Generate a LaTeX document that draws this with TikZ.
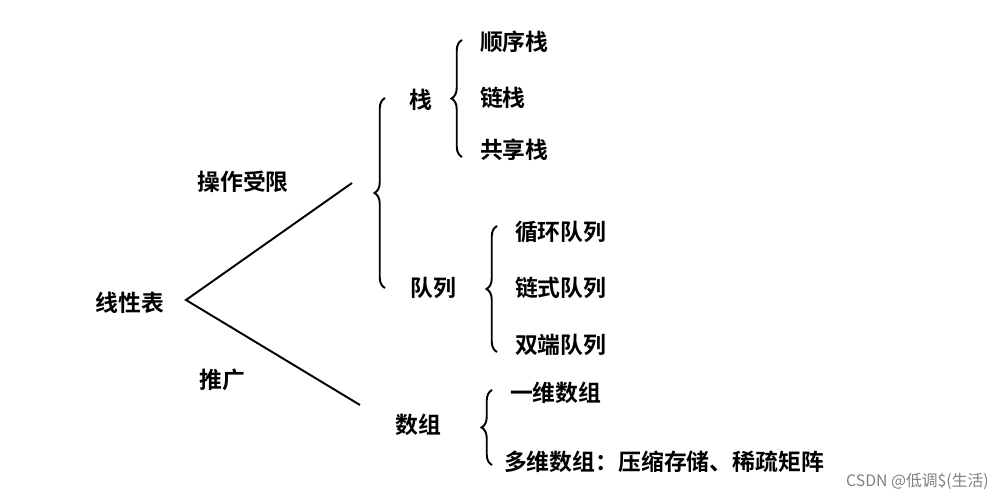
\documentclass[tikz,border=0pt]{standalone}
\usepackage{fontspec}
\setmainfont{Noto Sans CJK SC}[BoldFont={Noto Sans CJK SC Bold}]
\usetikzlibrary{decorations.pathreplacing}
\begin{document}
\begin{tikzpicture}[x=0.02cm,y=-0.02cm,
  lbl/.style={font=\fontsize{13}{15}\selectfont\bfseries, inner sep=1pt},
  br/.style={line width=1.1pt, decorate, decoration={brace, amplitude=6pt}},
  ln/.style={line width=1.1pt}]
\useasboundingbox (0,0) rectangle (999,500);
\node[lbl] (lin) at (130,303) {线性表};
\node[lbl] (op) at (243,182) {操作受限};
\node[lbl] (tg) at (222,380) {推广};
\coordinate (o) at (186,300);
\coordinate (e1) at (352,183);
\coordinate (e2) at (360,405);
\draw[ln] (e1) -- (o) -- (e2);
\node[lbl] (zhan) at (421,100) {栈};
\node[lbl] (dl) at (433,288) {队列};
\node[lbl] (sz) at (418,425) {数组};
\draw[br] (385,288) -- (385,98);
\draw[br] (462,157) -- (462,40);
\draw[br] (497,352) -- (497,226);
\draw[br] (492,465) -- (492,390);
\node[lbl, anchor=west] (s1) at (478,42) {顺序栈};
\node[lbl, anchor=west] (s2) at (478,98) {链栈};
\node[lbl, anchor=west] (s3) at (478,150) {共享栈};
\node[lbl, anchor=west] (q1) at (513,232) {循环队列};
\node[lbl, anchor=west] (q2) at (513,288) {链式队列};
\node[lbl, anchor=west] (q3) at (513,345) {双端队列};
\node[lbl, anchor=west] (a1) at (508,393) {一维数组};
\node[lbl, anchor=west] (a2) at (502,462) {多维数组：压缩存储、稀疏矩阵};
\node[font=\fontsize{9}{10}\selectfont, text=gray, anchor=east] (wm) at (995,481) {CSDN @低调\$(生活)};
\end{tikzpicture}
\end{document}
